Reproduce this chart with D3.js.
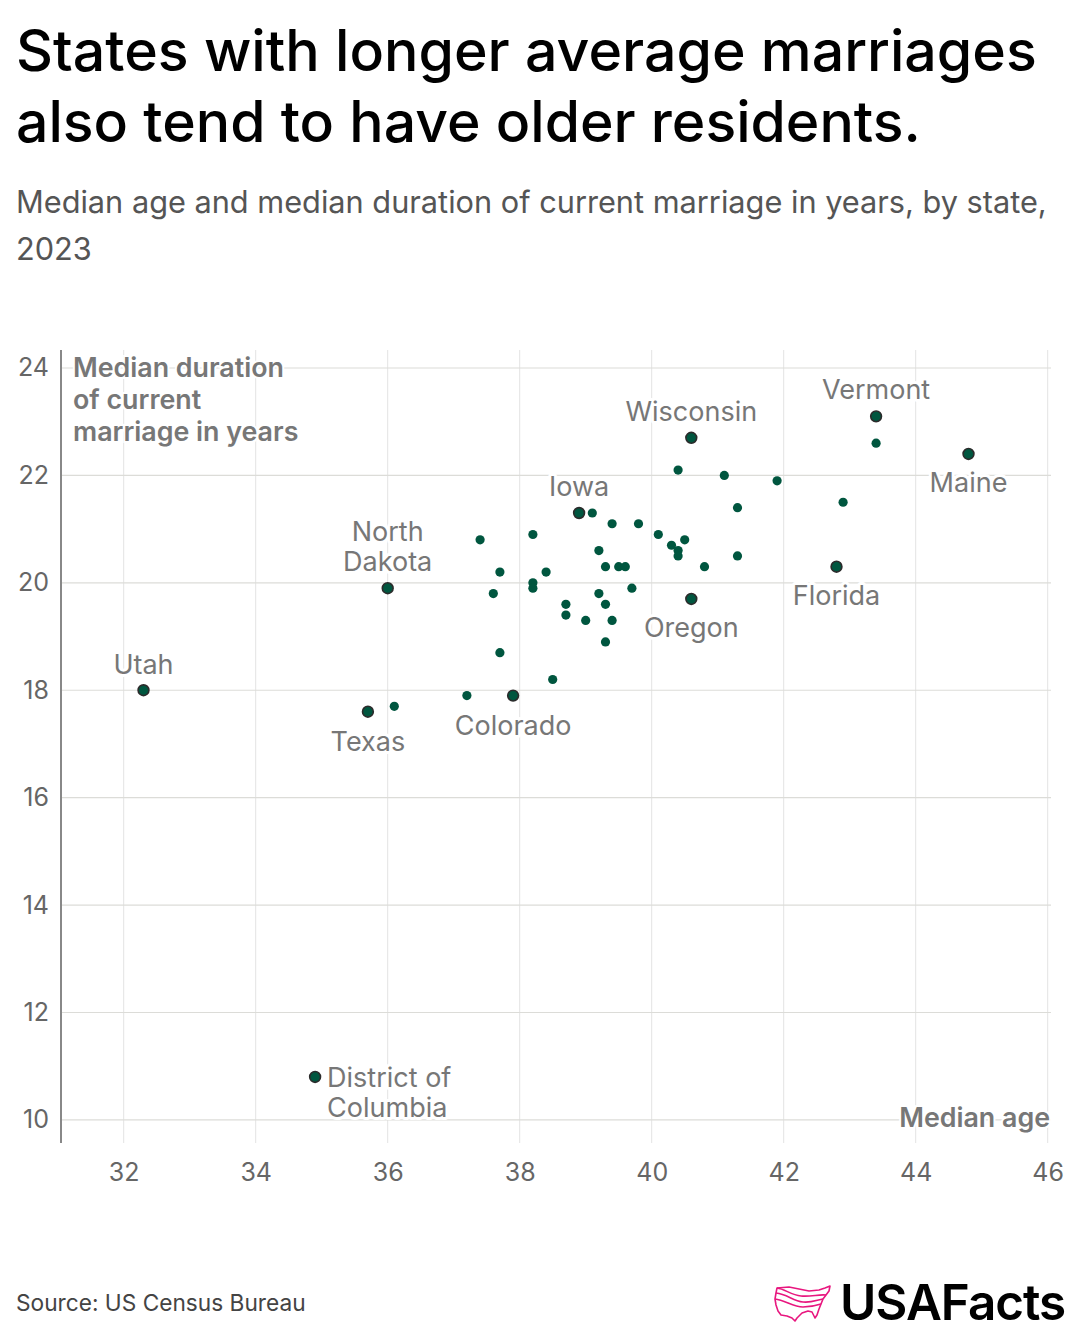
<!DOCTYPE html>
<html>
<head>
<meta charset="utf-8">
<script src="https://cdn.jsdelivr.net/npm/d3@7"></script>
<style>
  html, body { margin: 0; padding: 0; background: #fff; }
  svg { display: block; }
  text { font-family: Inter, "Noto Sans", sans-serif; }
</style>
</head>
<body>
<svg id="chart" width="1080" height="1338"></svg>
<script>
// ---- Data ----
const names = ["Wisconsin","","","","Iowa","","","","","","","","","","","","","","","","","","","","","","","","","Oregon","","","","","","","","","","Colorado","Vermont","","Maine","","Florida","North Dakota","Utah","Texas","","District of Columbia"];
const medianAge = [40.6,40.4,41.1,41.9,38.9,39.1,39.4,39.8,41.3,37.4,38.2,40.1,40.3,40.5,40.4,40.4,39.2,39.3,39.5,39.6,40.8,41.3,37.7,38.4,38.2,38.2,37.6,39.7,39.2,40.6,38.7,39.3,38.7,39.0,39.4,39.3,37.7,38.5,37.2,37.9,43.4,43.4,44.8,42.9,42.8,36.0,32.3,35.7,36.1,34.9];
const marriageYears = [22.7,22.1,22.0,21.9,21.3,21.3,21.1,21.1,21.4,20.8,20.9,20.9,20.7,20.8,20.6,20.5,20.6,20.3,20.3,20.3,20.3,20.5,20.2,20.2,20.0,19.9,19.8,19.9,19.8,19.7,19.6,19.6,19.4,19.3,19.3,18.9,18.7,18.2,17.9,17.9,23.1,22.6,22.4,21.5,20.3,19.9,18.0,17.6,17.7,10.8];
const xTicks = [32,34,36,38,40,42,44,46];
const yTicks = [10,12,14,16,18,20,22,24];

const title = ["States with longer average marriages", "also tend to have older residents."];
const subtitle = ["Median age and median duration of current marriage in years, by state,", "2023"];
const yTitle = ["Median duration", "of current", "marriage in years"];
const xTitle = "Median age";
const source = "Source: US Census Bureau";

// label layout (offsets from point, in px)
const labelLayout = {
  "Wisconsin": {anchor: "middle", dx: 0, dy: [-17]},
  "Vermont": {anchor: "middle", dx: 0, dy: [-17]},
  "Maine": {anchor: "middle", dx: 0, dy: [38]},
  "Iowa": {anchor: "middle", dx: 0, dy: [-17]},
  "North Dakota": {anchor: "middle", dx: 0, dy: [-47, -17], lines: ["North", "Dakota"]},
  "Florida": {anchor: "middle", dx: 0, dy: [38]},
  "Oregon": {anchor: "middle", dx: 0, dy: [38]},
  "Utah": {anchor: "middle", dx: 0, dy: [-16]},
  "Texas": {anchor: "middle", dx: 0, dy: [39]},
  "Colorado": {anchor: "middle", dx: 0, dy: [39]},
  "District of Columbia": {anchor: "start", dx: 12, dy: [10, 40], lines: ["District of", "Columbia"]}
};

const svg = d3.select("#chart");

// fit text to a target width
function fit(sel, width) {
  const w = sel.node().getComputedTextLength();
  const fs = parseFloat(sel.attr("font-size"));
  sel.attr("font-size", fs * width / w);
}

// ---- Title / subtitle ----
fit(svg.append("text").attr("x", 16).attr("y", 71).attr("font-size", 52).attr("font-weight", 500)
  .attr("fill", "#000").text(title[0]), 1021);
fit(svg.append("text").attr("x", 16).attr("y", 142).attr("font-size", 52).attr("font-weight", 500)
  .attr("fill", "#000").text(title[1]), 905);
const st1 = svg.append("text").attr("x", 16).attr("y", 213).attr("font-size", 28)
  .attr("fill", "#555").text(subtitle[0]);
fit(st1, 1031);
svg.append("text").attr("x", 16).attr("y", 260).attr("font-size", st1.attr("font-size"))
  .attr("fill", "#555").text(subtitle[1]);

// ---- Scales ----
const x = d3.scaleLinear().domain([31.05, 46.05]).range([61, 1051]);
const y = d3.scaleLinear().domain([9.57, 24.335]).range([1143, 350]);

// ---- Gridlines ----
const grid = svg.append("g");
grid.selectAll("line.vx").data(xTicks).join("line")
  .attr("x1", d => x(d)).attr("x2", d => x(d))
  .attr("y1", y.range()[1]).attr("y2", y.range()[0])
  .attr("stroke", "#e3e3e3").attr("stroke-width", 1);
grid.selectAll("line.hy").data(yTicks).join("line")
  .attr("x1", x.range()[0]).attr("x2", x.range()[1])
  .attr("y1", d => y(d)).attr("y2", d => y(d))
  .attr("stroke", "#dcdcd8").attr("stroke-width", 1.2);

// y axis line
svg.append("line").attr("x1", 61).attr("x2", 61)
  .attr("y1", y.range()[1]).attr("y2", y.range()[0])
  .attr("stroke", "#888").attr("stroke-width", 2);

// ---- Axes (tick labels via d3 axis) ----
const xAxis = svg.append("g").attr("transform", `translate(0,${y.range()[0]})`)
  .call(d3.axisBottom(x).tickValues(xTicks).tickSize(0).tickPadding(20).tickFormat(d3.format("d")));
xAxis.select(".domain").remove();
xAxis.selectAll("text").attr("font-size", 25).attr("fill", "#666").attr("font-family", "Inter, sans-serif");

const yAxis = svg.append("g").attr("transform", `translate(${49},0)`)
  .call(d3.axisLeft(y).tickValues(yTicks).tickSize(0).tickPadding(0).tickFormat(d3.format("d")));
yAxis.select(".domain").remove();
yAxis.selectAll("text").attr("font-size", 25).attr("fill", "#666").attr("font-family", "Inter, sans-serif");

// ---- Axis titles ----
const yt = svg.append("text").attr("x", 73).attr("y", 377).attr("font-size", 26.8).attr("font-weight", 600)
  .attr("fill", "#777").attr("stroke", "#fff").attr("stroke-width", 4).attr("paint-order", "stroke");
yt.selectAll("tspan").data(yTitle).join("tspan").attr("x", 73).attr("dy", (d, i) => i ? 32 : 0).text(d => d);

svg.append("text").attr("x", 1050).attr("y", 1127).attr("text-anchor", "end").attr("font-size", 26.8)
  .attr("font-weight", 600).attr("fill", "#777").attr("stroke", "#fff").attr("stroke-width", 4)
  .attr("paint-order", "stroke").text(xTitle);

// ---- Points ----
const data = medianAge.map((a, i) => ({age: a, dur: marriageYears[i], name: names[i]}));
const plain = data.filter(d => !d.name);
const hi = data.filter(d => d.name);

svg.append("g").selectAll("circle").data(plain).join("circle")
  .attr("cx", d => x(d.age)).attr("cy", d => y(d.dur)).attr("r", 4.6)
  .attr("fill", "#00563f");

// ---- Labels ----
const lg = svg.append("g");
hi.forEach(d => {
  const L = labelLayout[d.name];
  const lines = L.lines || [d.name];
  lines.forEach((ln, i) => {
    lg.append("text")
      .attr("x", x(d.age) + L.dx).attr("y", y(d.dur) + L.dy[i])
      .attr("text-anchor", L.anchor).attr("font-size", 27).attr("fill", "#777")
      .attr("stroke", "#fff").attr("stroke-width", 6).attr("stroke-linejoin", "round")
      .attr("paint-order", "stroke").text(ln);
  });
});

svg.append("g").selectAll("circle").data(hi).join("circle")
  .attr("cx", d => x(d.age)).attr("cy", d => y(d.dur)).attr("r", 5.4)
  .attr("fill", "#00563f").attr("stroke", "#2b2b2b").attr("stroke-width", 1.6);

// ---- Footer ----
svg.append("text").attr("x", 16).attr("y", 1311).attr("font-size", 22.7).attr("fill", "#444").text(source);

const logo = svg.append("text").attr("x", 840).attr("y", 1320).attr("font-size", 48).attr("font-weight", 600)
  .attr("fill", "#000").attr("letter-spacing", -1).text("USAFacts");
fit(logo, 225);

// simplified US-map icon with stripes
const icon = svg.append("g").attr("transform", "translate(775,1285)")
  .attr("fill", "none").attr("stroke", "#e8177f").attr("stroke-width", 1.6).attr("stroke-linejoin", "round");
icon.append("path").attr("d",
  "M2,3 L14,2 L24,4 L34,6 L44,5 L50,3 L55,1 L54,6 L51,10 L48,14 L46,19 L44,24 L42,30 L40,33 L37,27 L33,26 L27,28 L22,33 L20,36 L17,33 L12,31 L6,30 L3,26 L1,20 L0,14 L1,8 Z");
icon.append("path").attr("d", "M1,8 C12,9 18,16 28,17 C36,18 42,15 48,14");
icon.append("path").attr("d", "M0,14 C10,15 18,22 28,22 C35,22 40,21 46,19");
icon.append("path").attr("d", "M2,3 C10,4 16,10 26,11 C36,12 44,9 51,10");
</script>
</body>
</html>
